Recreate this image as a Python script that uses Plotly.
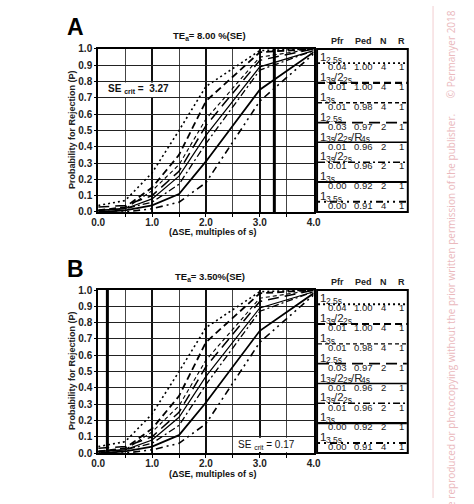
import plotly.graph_objects as go

W, H = 474, 504

def fx(p):
    return p / W

def fy(p):
    return 1 - p / H

# ---------------- data ----------------
x_se = [0.0, 0.5, 1.0, 1.5, 2.0, 3.0, 4.0]
p_12_5s_n4 = [0.04, 0.07, 0.24, 0.50, 0.77, 0.99, 1.00]
p_13s22s_n4 = [0.01, 0.03, 0.15, 0.35, 0.68, 0.98, 1.00]
p_13s_n4 = [0.01, 0.02, 0.13, 0.29, 0.57, 0.95, 1.00]
p_12_5s_n2 = [0.03, 0.04, 0.10, 0.25, 0.53, 0.93, 1.00]
p_13s22sR4s_n2 = [0.01, 0.02, 0.08, 0.22, 0.47, 0.89, 0.99]
p_13s22s_n2 = [0.01, 0.02, 0.06, 0.17, 0.42, 0.87, 0.99]
p_13s_n2 = [0.00, 0.01, 0.04, 0.11, 0.31, 0.75, 0.98]
p_13_5s_n4 = [0.00, 0.00, 0.02, 0.06, 0.18, 0.68, 0.97]

# rule names as (main text, subscript) pieces
rule_parts = [
    [("1", "2.5s")],
    [("1", "3s"), ("/2", "2s")],
    [("1", "3s")],
    [("1", "2.5s")],
    [("1", "3s"), ("/2", "2s"), ("/R", "4s")],
    [("1", "3s"), ("/2", "2s")],
    [("1", "3s")],
    [("1", "3.5s")],
]
pfr = ["0.04", "0.01", "0.01", "0.03", "0.01", "0.01", "0.00", "0.00"]
ped = ["1.00", "1.00", "0.98", "0.97", "0.96", "0.96", "0.92", "0.91"]
n_runs = ["4", "4", "4", "2", "2", "2", "2", "4"]
r_runs = ["1", "1", "1", "1", "1", "1", "1", "1"]
header = ["Pfr", "Ped", "N", "R"]

panel_letters = ["A", "B"]
tea_text = ["8.00 %", "3.50%"]
se_crit = [3.27, 0.17]
x_ticks = [0, 1, 2, 3, 4]

series = [p_12_5s_n4, p_13s22s_n4, p_13s_n4, p_12_5s_n2,
          p_13s22sR4s_n2, p_13s22s_n2, p_13s_n2, p_13_5s_n4]

# ---------------- styles ----------------
styles = [
    dict(dash="2px,3px", width=1.6),
    dict(dash="7px,4px", width=1.8),
    dict(dash="4px,3px", width=1.1),
    dict(dash="11px,6px", width=1.5),
    dict(dash="solid", width=1.2),
    dict(dash="7px,3px,2px,3px", width=1.3),
    dict(dash="solid", width=1.8),
    dict(dash="2px,4px,2px,4px,7px,4px", width=1.6),
]

FONT = "Liberation Sans"
CHAR_W = {".": 0.278, "/": 0.278, "R": 0.722, "s": 0.5}

def text_w(t, size):
    return sum(CHAR_W.get(c, 0.556) for c in t) * size * 0.92

fig = go.Figure()
shapes = []
annotations = []


def ann(x, y, text, size, color="#222", xanchor="center", yanchor="middle", **kw):
    d = dict(x=x, y=y, text=text, showarrow=False, xanchor=xanchor, yanchor=yanchor,
             borderpad=0,
             font=dict(family=kw.pop("family", FONT), size=size, color=color))
    d.setdefault("xref", "paper")
    d.setdefault("yref", "paper")
    d.update(kw)
    annotations.append(d)


offsets = [0, 247]
for k in range(2):
    off = offsets[k]
    sfx = "" if k == 0 else "2"
    xa = "x" + sfx
    ya = "y" + sfx
    for s, st in zip(series, styles):
        fig.add_trace(go.Scatter(x=x_se, y=s, mode="lines", xaxis=xa, yaxis=ya,
                                 line=dict(color="black", dash=st["dash"], width=st["width"]),
                                 showlegend=False, hoverinfo="skip"))
    axis_x = dict(domain=[fx(94), fx(316)], range=[0, 4], anchor=ya,
                  tickvals=x_ticks, ticktext=["%.1f" % v for v in x_ticks],
                  showgrid=True, gridcolor="#111", gridwidth=1.6,
                  minor=dict(dtick=0.5, tick0=0, showgrid=True, gridcolor="#444", gridwidth=1.1,
                             ticks="outside", ticklen=3, tickcolor="black"),
                  showline=True, linecolor="black", linewidth=2, mirror=True,
                  ticks="inside", ticklen=2, tickcolor="black",
                  zeroline=False,
                  tickfont=dict(family=FONT, size=10, color="#222", weight="bold"))
    axis_y = dict(domain=[fy(211 + off), fy(44 + off)], range=[0, 1], anchor=xa,
                  dtick=0.1, tick0=0, tickformat=".1f",
                  showgrid=True, gridcolor="#222", gridwidth=1.4,
                  showline=True, linecolor="black", linewidth=2, mirror=True,
                  ticks="outside", ticklen=2, tickcolor="black",
                  zeroline=False,
                  tickfont=dict(family=FONT, size=10, color="#222", weight="bold"))
    fig.update_layout(**{"xaxis" + sfx: axis_x, "yaxis" + sfx: axis_y})

    # SE crit vertical line
    shapes.append(dict(type="line", xref=xa, yref=ya, x0=se_crit[k], x1=se_crit[k], y0=0, y1=1,
                       line=dict(color="black", width=3), layer="above"))

    # SE crit label box
    if k == 0:
        shapes.append(dict(type="rect", xref=xa, yref=ya, x0=0.04, x1=1.42, y0=0.706, y1=0.794,
                           fillcolor="white", line=dict(width=0), layer="above"))
        ann(0.74, 0.752, "<b>SE <sub>crit</sub> =  %.2f</b>" % se_crit[k], 10, "#111",
            xref=xa, yref=ya)
    else:
        shapes.append(dict(type="rect", xref=xa, yref=ya, x0=2.53, x1=3.96, y0=0.006, y1=0.094,
                           fillcolor="white", line=dict(width=0), layer="above"))
        ann(3.13, 0.05, "SE <sub>crit</sub> = %.2f" % se_crit[k], 10, "#111",
            xref=xa, yref=ya)

    # panel letter, title, axis titles
    ann(fx(71), fy(22 + off), "<b>%s</b>" % panel_letters[k], 23, "black")
    ann(fx(209), fy(31 + off), "<b>TE<sub>a</sub>= %s(SE)</b>" % tea_text[k], 9.5, "#111")
    ann(fx(67), fy(127 + off), "<b>Probability for Rejection (P)</b>", 9, "#222", textangle=-90)
    ann(fx(212), fy(232 + off), "<b>(ΔSE, multiples of s)</b>", 9, "#111")

    # legend table
    bx0, bx1 = 319.5, 413
    by0, by1 = 44 + off, 211 + off
    shapes.append(dict(type="rect", xref="paper", yref="paper",
                       x0=fx(bx0), x1=fx(bx1), y0=fy(by1), y1=fy(by0),
                       line=dict(color="black", width=2)))
    col_x = [341, 367, 388, 406]
    for h, cx in zip(header, col_x):
        ann(fx(cx), fy(36 + off), "<b>%s</b>" % h, 9, "#222")
    MAIN, SUB = 11.5, 8.5
    for i in range(8):
        ly = 58.5 + i * 20.3 + off
        st = styles[i]
        shapes.append(dict(type="line", xref="paper", yref="paper",
                           x0=fx(bx0 + 1), x1=fx(bx1 - 1), y0=fy(ly), y1=fy(ly),
                           line=dict(color="black", dash=st["dash"], width=st["width"] + 0.3)))
        cx = 322.0
        for main, sub in rule_parts[i]:
            ann(fx(cx), fy(ly - 6), main, MAIN, "#222", xanchor="left")
            cx += text_w(main, MAIN)
            ann(fx(cx), fy(ly - 3.3), sub, SUB, "#222", xanchor="left")
            cx += text_w(sub, SUB)
        vals = [pfr[i], ped[i], n_runs[i], r_runs[i]]
        for v, vx in zip(vals, col_x):
            ann(fx(vx), fy(ly + 3.8), v, 9.5, "#222")

# watermark
shapes.append(dict(type="line", xref="paper", yref="paper", x0=fx(439), x1=fx(439), y0=0, y1=1,
                   line=dict(color="#f2cdd0", width=1)))
ann(fx(458), fy(3),
    "e reproduced or photocopying without the prior written permission of the publisher.      © Permanyer 2018",
    10, "#eab9bd", yanchor="top", textangle=-90, family="Open Sans")

fig.update_layout(width=W, height=H, margin=dict(l=0, r=0, t=0, b=0),
                  paper_bgcolor="white", plot_bgcolor="white",
                  shapes=shapes, annotations=annotations, showlegend=False)

fig.write_html("out.html")
